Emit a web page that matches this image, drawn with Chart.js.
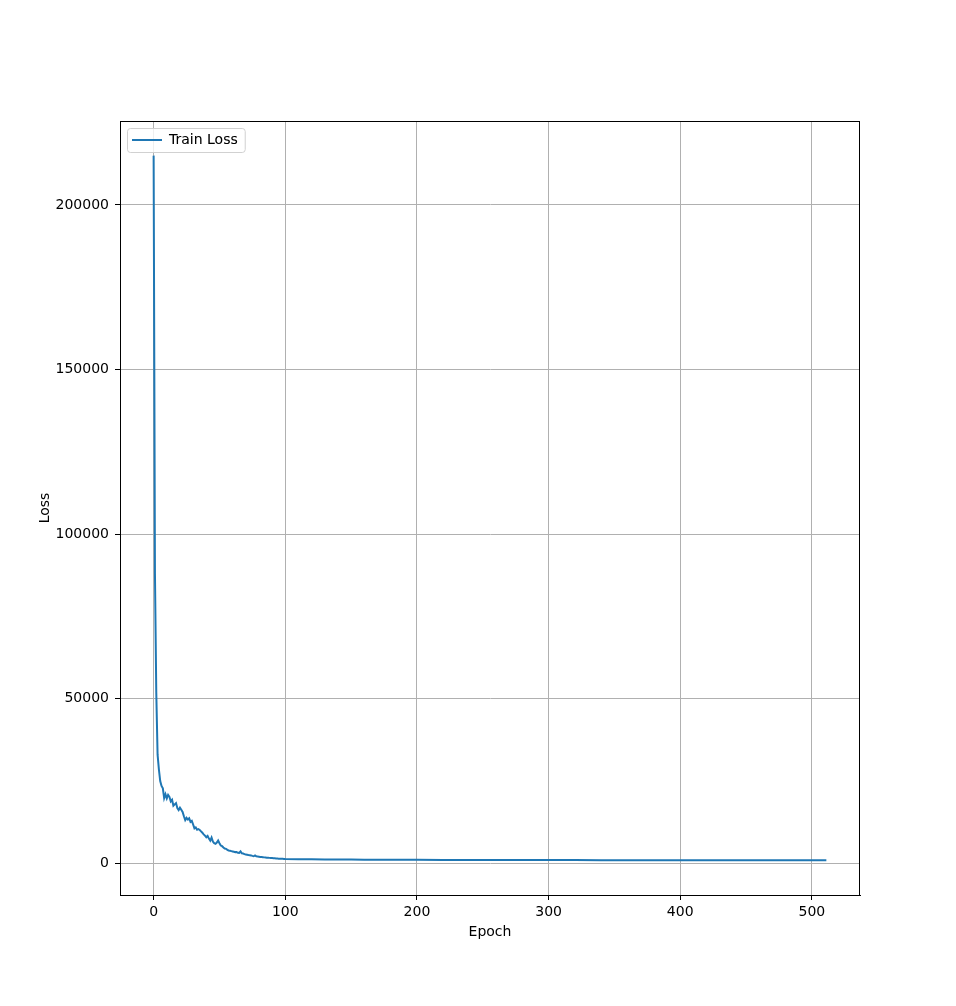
<!DOCTYPE html>
<html>
<head>
<meta charset="utf-8">
<script src="https://cdn.jsdelivr.net/npm/chart.js@4/dist/chart.umd.min.js"></script>
<style>
  html, body { margin: 0; padding: 0; background: #fff; }
  #wrap { width: 956px; height: 1006px; }
</style>
</head>
<body>
<div id="wrap"><canvas id="lossChart"></canvas></div>
<script>
var epochs = [
  0,1,2,3,4,5,6,7,8,9,10,11,12,13,14,15,16,17,18,19,
  20,21,22,23,24,25,26,27,28,29,30,31,32,33,34,35,36,37,38,39,
  40,41,42,43,44,45,46,47,48,49,50,51,52,53,54,55,56,57,58,59,
  60,61,62,63,64,65,66,67,68,69,70,71,72,73,74,75,76,77,78,79,
  80,81,82,83,84,85,86,87,88,89,90,91,92,93,94,95,96,97,98,99,
  100,110,120,130,140,150,160,170,180,190,200,220,240,260,280,
  300,320,340,360,380,400,420,440,460,480,500,511
];
var trainLoss = [
  215000,88000,52000,33000,28500,25000,23500,22800,19800,21000,
  19700,20800,20200,18800,19300,17500,17900,18300,16800,16200,
  16900,16300,15600,14300,13100,13800,13300,13700,12600,12900,
  11800,10600,10900,10200,10400,10100,9700,9300,8800,8400,
  7900,8300,7500,6900,7800,6600,6100,5900,6300,6900,
  6100,5400,5200,4800,4500,4400,4100,3900,3800,3700,
  3600,3500,3400,3450,3200,3150,3600,3000,2950,2800,
  2650,2600,2500,2450,2400,2250,2150,2400,2100,2050,
  2000,1950,1900,1850,1800,1750,1700,1720,1650,1600,
  1580,1550,1520,1480,1450,1420,1400,1380,1350,1320,
  1300,1250,1200,1180,1150,1130,1110,1100,1090,1070,1050,1030,1010,1000,990,
  980,970,960,950,940,930,925,920,915,910,905,900
];
var xTicks = [0, 100, 200, 300, 400, 500];
var yTicks = [0, 50000, 100000, 150000, 200000];

Chart.defaults.font.family = "'DejaVu Sans', sans-serif";
Chart.defaults.font.size = 14;
Chart.defaults.color = '#000';

var points = epochs.map(function (e, i) { return { x: e, y: trainLoss[i] }; });

// legend sits inside the plot (upper left), top/right spines + legend frame like matplotlib
var framePlugin = {
  id: 'frame',
  afterLayout: function (chart) {
    var lg = chart.legend;
    var dy = chart.chartArea.top - lg.top;
    lg.top += dy;
    lg.bottom += dy;
    lg.legendHitBoxes.forEach(function (h) { h.top += dy; });
  },
  afterDraw: function (chart) {
    var c = chart.ctx, a = chart.chartArea;
    c.save();
    c.strokeStyle = '#000';
    c.lineWidth = 1;
    c.strokeRect(a.left + 0.5, a.top + 0.5, a.right - a.left - 1, a.bottom - a.top);
    var hb = chart.legend.legendHitBoxes[0];
    if (hb) {
      var fx = hb.left - 5, fy = hb.top - 5, fw = hb.width + 12, fh = hb.height + 10;
      c.beginPath();
      c.roundRect(fx + 0.5, fy + 0.5, fw, fh, 3);
      c.fillStyle = 'rgba(255,255,255,0.8)';
      c.fill();
      c.strokeStyle = 'rgba(204,204,204,0.9)';
      c.stroke();
    }
    c.restore();
    chart.legend.draw();
  }
};

var ctx = document.getElementById('lossChart').getContext('2d');
var lossChart = new Chart(ctx, {
  type: 'line',
  data: {
    datasets: [{
      label: 'Train Loss',
      data: points,
      borderColor: '#1f77b4',
      backgroundColor: '#1f77b4',
      borderWidth: 2,
      pointRadius: 0,
      tension: 0,
      fill: false
    }]
  },
  options: {
    responsive: true,
    maintainAspectRatio: false,
    animation: false,
    devicePixelRatio: 1,
    layout: { padding: { left: 33, right: 96, top: 121, bottom: 61 } },
    plugins: {
      tooltip: { enabled: false },
      legend: {
        position: 'chartArea',
        align: 'start',
        labels: {
          usePointStyle: true,
          pointStyle: 'line',
          pointStyleWidth: 30,
          padding: 12,
          font: { size: 14 }
        }
      }
    },
    scales: {
      x: {
        type: 'linear',
        min: -25.55,
        max: 536.55,
        afterBuildTicks: function (s) { s.ticks = xTicks.map(function (v) { return { value: v }; }); },
        afterFit: function (s) { s.height = 50; },
        grid: { color: '#b0b0b0', lineWidth: 1, tickLength: 5, tickColor: '#000' },
        border: { display: true, color: '#000', width: 1 },
        ticks: { padding: 4, maxRotation: 0, font: { size: 14 } },
        title: { display: true, text: 'Epoch', font: { size: 14 } }
      },
      y: {
        type: 'linear',
        min: -9630,
        max: 225520,
        afterBuildTicks: function (s) { s.ticks = yTicks.map(function (v) { return { value: v }; }); },
        afterFit: function (s) { s.width = 87; },
        grid: { color: '#b0b0b0', lineWidth: 1, tickLength: 5, tickColor: '#000' },
        border: { display: true, color: '#000', width: 1 },
        ticks: { padding: 6, font: { size: 14 }, callback: function (v) { return String(v); } },
        title: { display: true, text: 'Loss', font: { size: 14 } }
      }
    }
  },
  plugins: [framePlugin]
});
</script>
</body>
</html>
